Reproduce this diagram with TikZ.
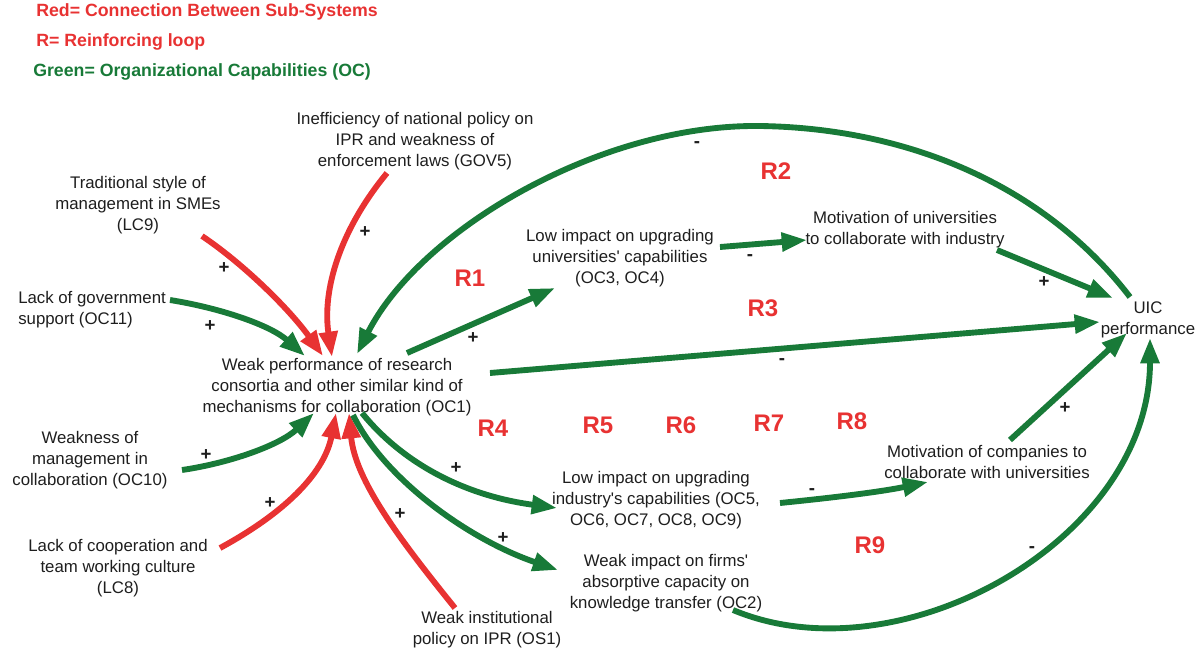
\documentclass[tikz,border=0pt]{standalone}
\usepackage{fontspec}
\setmainfont{Liberation Sans}
\newfontfamily\plainsans{Liberation Sans}
\usetikzlibrary{arrows.meta}
\definecolor{cred}{RGB}{232,50,50}
\definecolor{cgreen}{RGB}{24,122,56}
\definecolor{ctext}{RGB}{30,30,30}
\begin{document}
\begin{tikzpicture}[x=0.75pt,y=-0.75pt,
  txt/.style={align=center,inner sep=0pt,text=ctext,font=\plainsans\fontsize{12.6}{15.6}\selectfont},
  legend/.style={anchor=west,inner sep=0pt,font=\bfseries\fontsize{13.3}{15}\selectfont},
  rlab/.style={inner sep=0pt,text=cred,font=\bfseries\fontsize{18}{20}\selectfont},
  sgn/.style={inner sep=0pt,text=ctext,font=\bfseries\fontsize{14}{16}\selectfont},
  link/.style={line width=4.4pt,-{Triangle[length=19pt,width=13.5pt]}},
  redlink/.style={link,draw=cred},
  greenlink/.style={link,draw=cgreen}]
\useasboundingbox (0,0) rectangle (1200,650);

% legend
\node[legend,text=cred] (l1) at (36,12) {Red= Connection Between Sub-Systems};
\node[legend,text=cred] (l2) at (36,42) {R= Reinforcing loop};
\node[legend,text=cgreen] (l3) at (33,72) {Green= Organizational Capabilities (OC)};

% variables
\node[txt] (gov5) at (415,141) {Inefficiency of national policy on\\IPR and weakness of\\enforcement laws (GOV5)};
\node[txt] (lc9) at (138,205) {Traditional style of\\management in SMEs\\(LC9)};
\node[txt,align=left,anchor=west] (oc11) at (18,310) {Lack of government\\support (OC11)};
\node[txt] (oc1) at (337,387) {Weak performance of research\\consortia and other similar kind of\\mechanisms for collaboration (OC1)};
\node[txt] (oc34) at (620,258) {Low impact on upgrading\\universities' capabilities\\(OC3, OC4)};
\node[txt] (mu) at (905,230) {Motivation of universities\\to collaborate with industry};
\node[txt] (uic) at (1148,320) {UIC\\performance};
\node[txt] (oc10) at (90,460) {Weakness of\\management in\\collaboration (OC10)};
\node[txt] (lc8) at (118,568) {Lack of cooperation and\\team working culture\\(LC8)};
\node[txt] (os1) at (487,630) {Weak institutional\\policy on IPR (OS1)};
\node[txt] (oc5) at (656,500) {Low impact on upgrading\\industry's capabilities (OC5,\\OC6, OC7, OC8, OC9)};
\node[txt] (oc2) at (666,583) {Weak impact on firms'\\absorptive capacity on\\knowledge transfer (OC2)};
\node[txt] (mc) at (987,462) {Motivation of companies to\\collaborate with universities};

% loop labels
\node[rlab] (r1) at (470,278) {R1};
\node[rlab] (r2) at (776,171) {R2};
\node[rlab] (r3) at (763,308) {R3};
\node[rlab] (r4) at (493,428) {R4};
\node[rlab] (r5) at (598,425) {R5};
\node[rlab] (r6) at (681,425) {R6};
\node[rlab] (r7) at (769,423) {R7};
\node[rlab] (r8) at (852,421) {R8};
\node[rlab] (r9) at (870,545) {R9};

% connector end points
\coordinate (gov5s) at (387,173);  \coordinate (gov5e) at (332,357);
\coordinate (lc9s) at (202,236);   \coordinate (lc9e) at (323,356);
\coordinate (oc11s) at (170,300);  \coordinate (oc11e) at (305,356);
\coordinate (uicA) at (1130,297);  \coordinate (r2top) at (760,126); \coordinate (oc1A) at (357,354);
\coordinate (oc1B) at (407,353);   \coordinate (oc34in) at (555,288);
\coordinate (oc34out) at (720,247); \coordinate (muin) at (807,240);
\coordinate (muout) at (997,250);  \coordinate (uicB) at (1113,298);
\coordinate (oc1C) at (490,373);   \coordinate (uicC) at (1100,322);
\coordinate (oc10s) at (182,470);  \coordinate (oc10e) at (314,413);
\coordinate (lc8s) at (220,548);   \coordinate (lc8e) at (336,413);
\coordinate (os1s) at (455,608);   \coordinate (os1e) at (349,413);
\coordinate (oc1D) at (362,413);   \coordinate (oc5in) at (557,508);
\coordinate (oc1E) at (353,415);   \coordinate (oc2in) at (558,570);
\coordinate (oc5out) at (780,503); \coordinate (mcin) at (928,482);
\coordinate (mcout) at (1010,440); \coordinate (uicD) at (1127,333);
\coordinate (oc2out) at (733,610); \coordinate (uicE) at (1150,338);

% red connectors (sub-systems)
\draw[redlink] (gov5s) .. controls (340,230) and (322,290) .. (gov5e);
\draw[redlink] (lc9s) .. controls (245,265) and (290,310) .. (lc9e);
\draw[redlink] (lc8s) .. controls (290,510) and (325,470) .. (lc8e);
\draw[redlink] (os1s) .. controls (400,540) and (355,480) .. (os1e);

% green connectors
\draw[greenlink] (oc11s) .. controls (220,308) and (270,325) .. (oc11e);
\draw[greenlink] (oc10s) .. controls (230,463) and (280,445) .. (oc10e);
\draw[greenlink] (uicA) .. controls (1040,180) and (900,128) .. (r2top) .. controls (600,124) and (420,230) .. (oc1A);
\draw[greenlink] (oc1B) -- (oc34in);
\draw[greenlink] (oc34out) -- (muin);
\draw[greenlink] (muout) -- (uicB);
\draw[greenlink] (oc1C) -- (uicC);
\draw[greenlink] (oc1D) .. controls (400,460) and (460,495) .. (oc5in);
\draw[greenlink] (oc1E) .. controls (385,480) and (470,540) .. (oc2in);
\draw[greenlink] (oc5out) .. controls (830,498) and (880,492) .. (mcin);
\draw[greenlink] (mcout) -- (uicD);
\draw[greenlink] (oc2out) .. controls (900,680) and (1150,540) .. (uicE);

% polarity signs
\node[sgn] (s1) at (365,232) {+};
\node[sgn] (s2) at (224,268) {+};
\node[sgn] (s3) at (210,326) {+};
\node[sgn] (s4) at (697,145) {-};
\node[sgn] (s5) at (473,338) {+};
\node[sgn] (s6) at (750,258) {-};
\node[sgn] (s7) at (1044,282) {+};
\node[sgn] (s8) at (782,362) {-};
\node[sgn] (s9) at (206,455) {+};
\node[sgn] (s10) at (270,503) {+};
\node[sgn] (s11) at (400,514) {+};
\node[sgn] (s12) at (456,468) {+};
\node[sgn] (s13) at (503,538) {+};
\node[sgn] (s14) at (812,492) {-};
\node[sgn] (s15) at (1065,408) {+};
\node[sgn] (s16) at (1032,550) {-};
\end{tikzpicture}
\end{document}
